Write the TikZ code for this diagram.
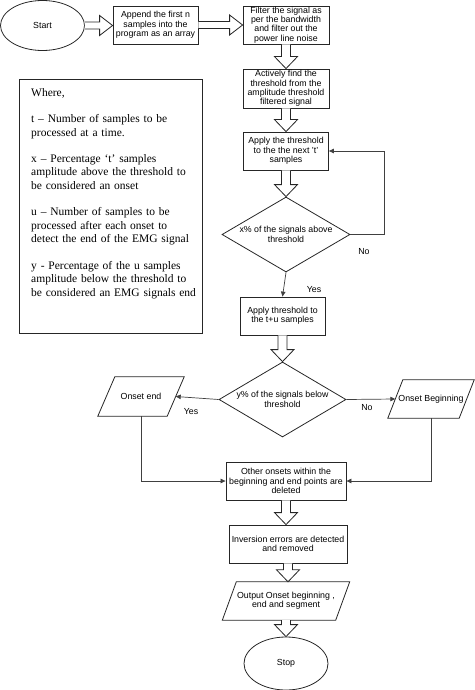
\documentclass[tikz,border=0pt]{standalone}
\usepackage{fontspec}
\setmainfont{Liberation Serif}
\setsansfont{Liberation Sans}
\usetikzlibrary{shapes.geometric,arrows.meta,calc}
\newcommand\hollowdown[2]{\path[hollow] let \p1=(#1.south), \p2=(#2.north) in
  (\x1-4.5pt,\y1) -- (\x1-4.5pt,\y2+12pt) -- (\x1-11.5pt,\y2+12pt) -- (\x1,\y2)
  -- (\x1+11.5pt,\y2+12pt) -- (\x1+4.5pt,\y2+12pt) -- (\x1+4.5pt,\y1);}
\newcommand\hollowright[2]{\path[hollow] let \p1=(#1.east), \p2=(#2.west) in
  (\x1,\y1+3.5pt) -- (\x2-13pt,\y1+3.5pt) -- (\x2-13pt,\y1+10pt) -- (\x2,\y1)
  -- (\x2-13pt,\y1-10pt) -- (\x2-13pt,\y1-3.5pt) -- (\x1,\y1-3.5pt);}
\newcommand\paraframe[2]{\draw[lw] ([xshift=#2]#1.north west) -- ([xshift=#2]#1.north east)
  -- ([xshift=-#2]#1.south east) -- ([xshift=-#2]#1.south west) -- cycle;}
\begin{document}
\begin{tikzpicture}[x=1pt,y=-1pt,
  lw/.style={line width=0.8pt, draw=black!85},
  sf/.style={font=\sffamily\fontsize{8.8}{9.4}\selectfont, text=black},
  proc/.style={lw, sf, rectangle, inner sep=0pt, align=center},
  term/.style={lw, sf, ellipse, inner sep=0pt},
  dec/.style={lw, diamond, inner sep=0pt},
  io/.style={sf, rectangle, inner sep=0pt, align=center},
  hollow/.style={line width=0.8pt, draw=black!85, fill=white, line join=miter},
  conn/.style={line width=0.7pt, draw=black!75, -{Triangle[length=5pt,width=4.5pt]}},
  lbl/.style={sf, inner sep=0pt}
]
\useasboundingbox (0,0) rectangle (474,690);

% top row
\node[term, minimum width=84, minimum height=50] (start) at (42.5,25.5) {Start};
\node[proc, minimum width=85, minimum height=38] (b1) at (155.5,25) {Append the first n\\samples into the\\program as an array};
\node[proc, minimum width=86, minimum height=38] (b2) at (286,25) {Filter the signal as\\per the bandwidth\\and filter out the\\power line noise};
\node[proc, minimum width=86, minimum height=39] (b3) at (286,88.5) {Actively find the\\threshold from the\\amplitude threshold\\filtered signal};
\node[proc, minimum width=85, minimum height=38] (b4) at (286,151) {Apply the threshold\\to the the next 't'\\samples};
\node[dec, minimum width=128, minimum height=75,
  label={[lbl, align=center]center:x\% of the signals above\\threshold}] (d1) at (286,234.5) {};
\node[proc, minimum width=85, minimum height=38] (b5) at (282.5,316) {Apply threshold to\\the t+u samples};
\node[dec, minimum width=127, minimum height=75,
  label={[lbl, align=center]center:y\% of the signals below\\threshold}] (d2) at (282.5,399.5) {};
\node[io, minimum width=69, minimum height=39] (oe) at (141,396.5) {Onset end};
\paraframe{oe}{8.5pt}
\node[io, minimum width=71, minimum height=38] (ob) at (431,399) {Onset Beginning};
\paraframe{ob}{7.5pt}
\node[proc, minimum width=120, minimum height=38] (b6) at (286,481) {Other onsets within the\\beginning and end points are\\deleted};
\node[proc, minimum width=118, minimum height=38] (b7) at (288,544) {Inversion errors are detected\\and removed};
\node[io, minimum width=113, minimum height=38] (out) at (286,601) {Output Onset beginning ,\\end and segment};
\paraframe{out}{7pt}
\node[term, minimum width=84, minimum height=53] (stop) at (286,663.5) {Stop};

% legend box
\node[draw=black!85, line width=0.9pt, minimum width=183, minimum height=254, inner sep=0pt] (legend) at (110.5,206) {};
\node[anchor=north west, inner sep=0pt, align=left, text width=170,
  font=\fontsize{11.5}{13.5}\selectfont, text=black] (legtext) at (31,88) {Where,\\[12.9pt]
t -- Number of samples to be\\processed at a time.\\[12.9pt]
x -- Percentage `t' samples\\amplitude above the threshold to\\be considered an onset\\[12.9pt]
u -- Number of samples to be\\processed after each onset to\\detect the end of the EMG signal\\[12.9pt]
y - Percentage of the u samples\\amplitude below the threshold to\\be considered an EMG signals end};

% hollow arrows
\hollowright{start}{b1}
\hollowright{b1}{b2}
\hollowdown{b2}{b3}
\hollowdown{b3}{b4}
\hollowdown{b4}{d1}
\hollowdown{b5}{d2}
\hollowdown{b6}{b7}
\hollowdown{b7}{out}
\hollowdown{out}{stop}

% connectors
\coordinate (noloop) at (384,234.5);
\draw[conn] (d1.east) -- (noloop) |- (b4.east);
\draw[conn] (d1.south) -- (b5.north);
\draw[conn] (d2.west) -- (oe.east);
\draw[conn] (d2.east) -- (ob.west);
\draw[conn] (oe.south) |- (b6.west);
\draw[conn] (ob.south) |- (b6.east);

% labels
\node[lbl] (no1) at (364,252) {No};
\node[lbl] (yes1) at (314,290) {Yes};
\node[lbl] (yes2) at (191,412) {Yes};
\node[lbl] (no2) at (367,408) {No};
\end{tikzpicture}
\end{document}
